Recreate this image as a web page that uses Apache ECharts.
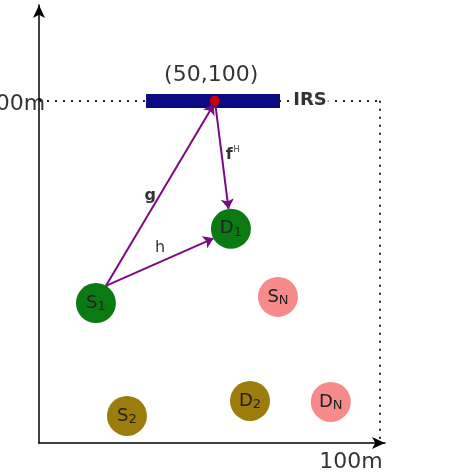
<!DOCTYPE html>
<html>
<head>
<meta charset="utf-8">
<script src="https://cdn.jsdelivr.net/npm/echarts@6/dist/echarts.min.js"></script>
<style>html,body{margin:0;padding:0;background:#fff}#chart{width:474px;height:474px}</style>
</head>
<body>
<div id="chart"></div>
<script>
// node positions in metres
var nodeNames = ['S1', 'D1', 'SN', 'S2', 'D2', 'DN'];
var nodeX = [16.7, 56.3, 70.1, 25.8, 61.9, 85.6];
var nodeY = [40.9, 62.6, 42.7, 7.9, 12.3, 12.0];
var nodeColors = ['#0b7a12', '#0b7a12', '#f78a8a', '#9c7c0c', '#9c7c0c', '#f78a8a'];

var irsPoint = [51.6, 100];
var irsBar = [[31.4, 100], [70.7, 100]];

// links (start, end) trimmed at circle edges
var linkNames = ['g', 'fH', 'h'];
var linkFrom = [[19.6, 45.9], [51.6, 100], [19.6, 45.9]];
var linkTo = [[51.3, 99], [55.6, 68.4], [51.2, 59.8]];

var boundary = [[[0, 100], [100, 100]], [[100, 100], [100, 0]]];

var textLabels = [
    { value: [32.6, 72.2], label: '{b|g}' },
    { value: [35.5, 57.0], label: '{n|h}' },
    { value: [56.8, 84.2], label: '{b|f}{sup|H}' },
    { value: [50.5, 107.5], label: '{big|(50,100)}' },
    { value: [79.5, 100], label: '{irs|IRS}' },
    { value: [91.5, -5.5], label: '{big|100m}' },
    { value: [-7.5, 99], label: '{big|100m}' }
];

var chart = echarts.init(document.getElementById('chart'));

var nodeData = nodeNames.map(function (n, i) {
    return {
        value: [nodeX[i], nodeY[i]],
        itemStyle: { color: nodeColors[i], opacity: 1 },
        label: { formatter: '{m|' + n[0] + '}{s|' + n.slice(1) + '}' }
    };
});

var option = {
    animation: false,
    grid: { left: 39, right: 89, top: 5, bottom: 31 },
    xAxis: {
        type: 'value', min: 0, max: 101.5,
        axisLine: { show: true, onZero: false, symbol: ['none', 'arrow'], symbolSize: [9, 13], lineStyle: { color: '#000', width: 1.5 } },
        axisTick: { show: false }, axisLabel: { show: false }, splitLine: { show: false }
    },
    yAxis: {
        type: 'value', min: 0, max: 128,
        axisLine: { show: true, onZero: false, symbol: ['none', 'arrow'], symbolSize: [9, 13], lineStyle: { color: '#000', width: 1.5 } },
        axisTick: { show: false }, axisLabel: { show: false }, splitLine: { show: false }
    },
    series: [
        {
            type: 'lines', coordinateSystem: 'cartesian2d', silent: true,
            lineStyle: { color: '#222', type: [2, 6], width: 2, opacity: 1 },
            data: boundary.map(function (b) { return { coords: b }; })
        },
        {
            type: 'lines', coordinateSystem: 'cartesian2d', silent: true,
            lineStyle: { color: '#0a0a82', width: 14, opacity: 1, cap: 'butt' },
            data: [{ coords: irsBar }]
        },
        {
            type: 'lines', coordinateSystem: 'cartesian2d', silent: true,
            symbol: ['none', 'arrow'], symbolSize: 10,
            lineStyle: { color: '#7a0a82', width: 2, opacity: 1 },
            data: linkNames.map(function (n, i) { return { name: n, coords: [linkFrom[i], linkTo[i]] }; })
        },
        {
            type: 'scatter', symbolSize: 10, z: 5,
            itemStyle: { color: '#c80000', opacity: 1 },
            data: [irsPoint]
        },
        {
            type: 'scatter', symbolSize: 40, z: 4,
            label: {
                show: true, position: 'inside', fontSize: 18, color: '#222',
                rich: {
                    m: { fontFamily: 'DejaVu Sans', fontSize: 18, color: '#222' },
                    s: { fontFamily: 'DejaVu Sans', fontSize: 13, color: '#222', padding: [7, 0, 0, 0] }
                }
            },
            data: nodeData
        },
        {
            type: 'scatter', symbolSize: 0, z: 6, clip: false,
            label: {
                show: true, position: 'inside', fontSize: 16, color: '#000',
                formatter: function (p) { return textLabels[p.dataIndex].label; },
                rich: {
                    b: { fontFamily: 'DejaVu Sans', fontSize: 16, fontWeight: 'bold', color: '#000' },
                    n: { fontFamily: 'DejaVu Sans', fontSize: 16, color: '#000' },
                    sup: { fontFamily: 'DejaVu Sans', fontSize: 8, color: '#000', padding: [0, 0, 10, 1] },
                    big: { fontFamily: 'DejaVu Sans', fontSize: 22, color: '#000' },
                    irs: { fontFamily: 'DejaVu Sans', fontSize: 18, fontWeight: 'bold', color: '#000', backgroundColor: '#fff', padding: [0, 2] }
                }
            },
            data: textLabels.map(function (t) { return t.value; })
        }
    ]
};

chart.setOption(option);
window.addEventListener('resize', chart.resize);
</script>
</body>
</html>
